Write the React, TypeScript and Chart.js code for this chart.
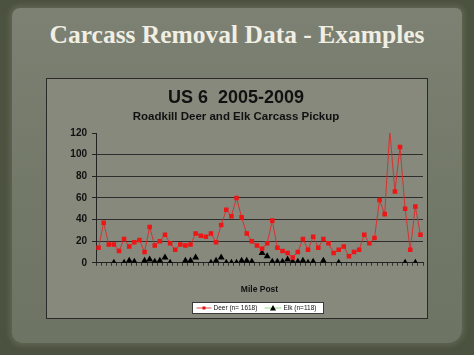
import React, { useEffect, useRef } from 'react';
import { Chart, registerables } from 'chart.js';

Chart.register(...registerables);

const slideTitle = 'Carcass Removal Data - Examples';
const chartTitle = 'US 6  2005-2009';
const chartSubtitle = 'Roadkill Deer and Elk Carcass Pickup';
const xAxisTitle = 'Mile Post';
const deerLabel = 'Deer (n= 1618)';
const elkLabel = 'Elk (n=118)';

const deerCounts = [
  14, 37, 17, 17, 11, 22, 15, 19, 21, 10, 33, 16, 20, 26, 18, 12,
  17, 16, 17, 27, 25, 24, 27, 19, 35, 49, 43, 60, 42, 27, 20, 16,
  13, 18, 39, 14, 11, 9, 5, 10, 22, 12, 24, 14, 22, 18, 9, 12,
  15, 6, 10, 12, 26, 18, 23, 58, 45, 122, 66, 107, 50, 12, 52, 26,
];

const elkCounts: (number | null)[] = [
  null, null, null, 0, null, 0, 2, 1, null, 2, 3, 1, 2, 5, 0, null,
  null, 2, 2, 5, null, null, 0, 2, 5, 0, 0, 0, 2, 2, 1, null,
  9, 6, 1, 1, 1, 3, 1, 1, 2, 0, 1, null, 2, null, null, 0,
  null, null, null, null, null, null, null, null, null, null, null, null, 0, null, 0, null,
];

const mileLabels = deerCounts.map((_, i) => String(i + 1));
const yMin = 0;
const yMax = 120;
const yStep = 20;

const FONT = '"Liberation Sans", Arial, sans-serif';

const boxLegend = {
  id: 'boxLegend',
  afterDraw(chart: any) {
    const { ctx, chartArea } = chart;
    const w = 131;
    const h = 11;
    const L = Math.round((chartArea.left + chartArea.right) / 2 - 2 - w / 2) + 0.5;
    const T = chart.height - 16 + 0.5;
    const cy = T + h / 2;
    ctx.save();
    ctx.fillStyle = '#ffffff';
    ctx.fillRect(L, T, w, h);
    ctx.strokeStyle = '#3a3a3a';
    ctx.lineWidth = 1;
    ctx.strokeRect(L, T, w, h);
    ctx.strokeStyle = '#e04a4a';
    ctx.beginPath();
    ctx.moveTo(L + 4, cy);
    ctx.lineTo(L + 19, cy);
    ctx.stroke();
    ctx.fillStyle = '#e01010';
    ctx.fillRect(L + 10, cy - 1.5, 3, 3);
    ctx.strokeStyle = '#8fdc8f';
    ctx.beginPath();
    ctx.moveTo(L + 72, cy);
    ctx.lineTo(L + 89, cy);
    ctx.stroke();
    ctx.fillStyle = '#000000';
    ctx.beginPath();
    ctx.moveTo(L + 80.5, cy - 3);
    ctx.lineTo(L + 83.5, cy + 2.5);
    ctx.lineTo(L + 77.5, cy + 2.5);
    ctx.closePath();
    ctx.fill();
    ctx.fillStyle = '#111111';
    ctx.font = `6.5px ${FONT}`;
    ctx.textBaseline = 'middle';
    ctx.textAlign = 'left';
    ctx.fillText(deerLabel, L + 21, cy);
    ctx.fillText(elkLabel, L + 91, cy);
    ctx.restore();
  },
};

export default function App() {
  const canvasRef = useRef<HTMLCanvasElement | null>(null);

  useEffect(() => {
    if (!canvasRef.current) return;
    const chart = new Chart(canvasRef.current, {
      type: 'line',
      data: {
        labels: mileLabels,
        datasets: [
          {
            label: deerLabel,
            data: deerCounts,
            borderColor: 'rgba(225,40,40,0.9)',
            borderWidth: 1,
            pointStyle: 'rect',
            pointRadius: (c: any) => (c.raw > yMax ? 0 : 3.2),
            pointBackgroundColor: '#ee1515',
            pointBorderColor: '#ee1515',
            pointBorderWidth: 0,
            tension: 0,
          },
          {
            label: elkLabel,
            data: elkCounts,
            showLine: false,
            pointStyle: 'triangle',
            pointRadius: 4,
            pointBackgroundColor: '#000000',
            pointBorderColor: '#000000',
            pointBorderWidth: 0,
          },
        ],
      },
      options: {
        animation: false,
        responsive: false,
        layout: { padding: { left: 0, right: 2, top: 0, bottom: 21 } },
        plugins: {
          legend: { display: false },
          tooltip: { enabled: false },
          title: {
            display: true,
            text: chartTitle,
            color: '#111111',
            font: { family: FONT, size: 18, weight: 'bold', lineHeight: 1.2 },
            padding: { top: 8, bottom: 0 },
          },
          subtitle: {
            display: true,
            text: chartSubtitle,
            color: '#111111',
            font: { family: FONT, size: 11.5, weight: 'bold', lineHeight: 1.2 },
            padding: { top: 1.5, bottom: 9.1 },
          },
        },
        scales: {
          x: {
            type: 'category',
            offset: true,
            grid: {
              display: true,
              drawOnChartArea: false,
              offset: true,
              drawTicks: true,
              tickLength: 3,
              color: '#333333',
            },
            border: { display: true, color: '#222222', width: 1 },
            ticks: { display: false },
            title: {
              display: true,
              text: xAxisTitle,
              color: '#111111',
              font: { family: FONT, size: 8.5, weight: 'bold', lineHeight: 1.2 },
              padding: { top: 19, bottom: 2 },
            },
          },
          y: {
            min: yMin,
            max: yMax,
            afterFit: (s: any) => {
              s.width = 49;
            },
            ticks: {
              stepSize: yStep,
              color: '#111111',
              font: { family: FONT, size: 10, weight: 'bold' },
              padding: 5,
            },
            grid: {
              color: (c: any) => (c.tick && c.tick.value === yMax ? 'rgba(0,0,0,0)' : '#2e2e2e'),
              tickColor: '#222222',
              tickLength: 4,
              lineWidth: 1,
            },
            border: { display: true, color: '#222222', width: 1 },
          },
        },
      },
      plugins: [boxLegend],
    });
    return () => chart.destroy();
  }, []);

  return (
    <div
      style={{
        position: 'fixed',
        left: 0,
        top: 0,
        width: 474,
        height: 355,
        overflow: 'hidden',
        background: '#4b523f',
      }}
    >
      <div
        style={{
          position: 'absolute',
          left: 12,
          top: 8,
          width: 450,
          height: 335,
          borderRadius: '8px 6px 14px 10px',
          background: 'linear-gradient(#7c8173, #737969 55%, #6e7464)',
          boxShadow: '0 0 5px 3px rgba(95,102,82,0.9)',
        }}
      />
      <div
        style={{
          position: 'absolute',
          left: 0,
          top: 22,
          width: 474,
          textAlign: 'center',
          fontFamily: '"Liberation Serif", "DejaVu Serif", serif',
          fontWeight: 'bold',
          fontSize: 25.5,
          lineHeight: '25px',
          color: '#f1eee3',
          whiteSpace: 'nowrap',
        }}
      >
        {slideTitle}
      </div>
      <div
        style={{
          position: 'absolute',
          left: 46,
          top: 78,
          width: 380,
          height: 239,
          border: '1px solid #2a2a2a',
          background: '#86897c',
        }}
      >
        <canvas ref={canvasRef} width={380} height={239} style={{ display: 'block', width: 380, height: 239 }} />
      </div>
    </div>
  );
}
